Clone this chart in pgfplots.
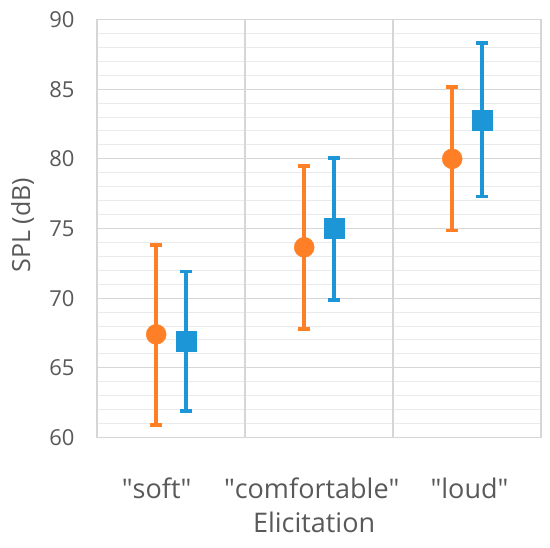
\documentclass[border=0pt]{standalone}
\usepackage{pgfplots}
\pgfplotsset{compat=1.18}
\usepackage{fontspec}
\setmainfont{Open Sans}
\definecolor{myorange}{RGB}{255,127,39}
\definecolor{myblue}{RGB}{28,150,214}
\definecolor{txt}{RGB}{89,89,89}
\definecolor{majgrid}{RGB}{214,214,214}
\definecolor{mingrid}{RGB}{234,234,234}
\newcommand{\q}{\textquotedbl}
\begin{document}
\begin{tikzpicture}
\path[use as bounding box] (-97pt,-110.5pt) rectangle (453pt,437.5pt);
\begin{axis}[
  at={(0,0)}, anchor=south west,
  scale only axis, width=444pt, height=418pt,
  xmin=0.5, xmax=3.5, ymin=60, ymax=90,
  ytick={60,65,...,90}, minor ytick={61,...,89},
  ymajorgrids, yminorgrids,
  major grid style={majgrid, line width=1.3pt},
  minor grid style={mingrid, line width=1pt},
  xtick={0.903,1.951,3.017},
  xticklabels={\q soft\q,\q comfortable\q,\q loud\q},
  extra x ticks={1.5,2.5}, extra x tick labels={},
  extra x tick style={grid=major},
  major tick length=0pt, minor tick length=0pt,
  axis line style={majgrid, line width=1.3pt},
  /pgf/number format/assume math mode=true,
  yticklabel style={font=\fontsize{22}{26}\selectfont, text=txt, xshift=-19pt},
  xticklabel style={font=\fontsize{27}{32}\selectfont, text=txt, anchor=base, yshift=-61.5pt},
  xlabel={Elicitation},
  ylabel={SPL (dB)},
  xlabel style={font=\fontsize{27}{32}\selectfont, text=txt, at={(axis description cs:0.489,-0.2265)}, anchor=base},
  ylabel style={font=\fontsize{25}{30}\selectfont, text=txt, at={(axis description cs:-0.1509,0.508)}, anchor=base},
  clip=false,
]
\addplot+[only marks, myorange, mark=*, mark size=10pt, mark options={fill=myorange, draw=myorange},
  error bars/.cd, y dir=both, y explicit,
  error bar style={line width=3.8pt, myorange},
  error mark options={rotate=90, line width=3.6pt, mark size=5.8pt, myorange}]
  coordinates {
  (0.9,67.4)  += (0,6.4)  -= (0,6.5)
  (1.9,73.65) += (0,5.85) -= (0,5.85)
  (2.9,80.0)  += (0,5.15) -= (0,5.15)
  };
\addplot+[only marks, myblue, mark=square*, mark size=10pt, mark options={fill=myblue, draw=myblue},
  error bars/.cd, y dir=both, y explicit,
  error bar style={line width=3.8pt, myblue},
  error mark options={rotate=90, line width=3.6pt, mark size=5.8pt, myblue}]
  coordinates {
  (1.1,66.9)  += (0,5.0)  -= (0,5.0)
  (2.1,75.0)  += (0,5.05) -= (0,5.15)
  (3.1,82.8)  += (0,5.5)  -= (0,5.5)
  };
\end{axis}
\end{tikzpicture}
\end{document}
